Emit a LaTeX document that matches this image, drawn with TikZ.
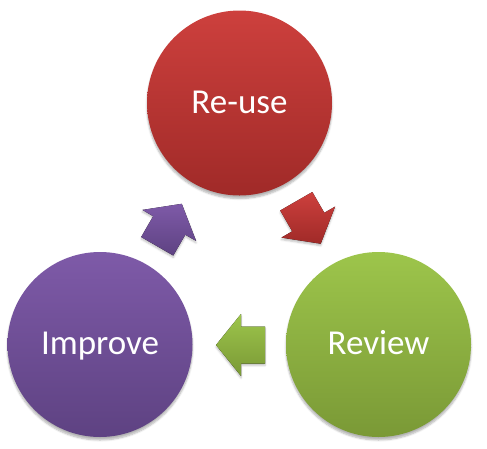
\documentclass[tikz,border=0pt]{standalone}
\usepackage{fontspec}
\setmainfont{Carlito}
\usetikzlibrary{shadows.blur}
\definecolor{redtop}{HTML}{CD403D}
\definecolor{redbot}{HTML}{A02A28}
\definecolor{greentop}{HTML}{9DC54B}
\definecolor{greenbot}{HTML}{7A9936}
\definecolor{purptop}{HTML}{7E5AA8}
\definecolor{purpbot}{HTML}{5E4282}
\tikzset{
  stage/.style={circle, minimum size=185pt, inner sep=0pt, text=white,
    font=\fontsize{35}{40}\selectfont, text height=20pt, text depth=0pt,
    blur shadow={shadow xshift=0pt, shadow yshift=-3pt, shadow blur steps=6, shadow opacity=30}},
  blockarrow/.style={blur shadow={shadow xshift=0pt, shadow yshift=-2pt, shadow blur steps=4, shadow opacity=25}},
}
\begin{document}
\begin{tikzpicture}[x=1pt,y=-1pt]
\useasboundingbox (0,0) rectangle (487,448);
\node[stage, top color=redtop, bottom color=redbot] (reuse) at (239.5,103) {Re-use};
\node[stage, top color=greentop, bottom color=greenbot] (review) at (378.5,344.5) {Review};
\node[stage, top color=purptop, bottom color=purpbot] (improve) at (100,344.5) {Improve};
% red arrow: Re-use -> Review
\fill[blockarrow, top color=redtop, bottom color=redbot]
  (312.3,192.0) -- (324.3,212.8) -- (335.1,206.6) -- (320.75,243.7)
  -- (281.4,237.6) -- (292.2,231.3) -- (280.2,210.5) -- cycle;
% green arrow: Review -> Improve
\fill[blockarrow, top color=greentop, bottom color=greenbot]
  (265,326.5) -- (241,326.5) -- (241,314) -- (216,345)
  -- (241,376) -- (241,363.5) -- (265,363.5) -- cycle;
% purple arrow: Improve -> Re-use
\fill[blockarrow, top color=purptop, bottom color=purpbot]
  (141.2,237.0) -- (153.2,216.2) -- (142.4,209.9) -- (181.75,203.8)
  -- (196.1,240.9) -- (185.3,234.7) -- (173.3,255.5) -- cycle;
\end{tikzpicture}
\end{document}
